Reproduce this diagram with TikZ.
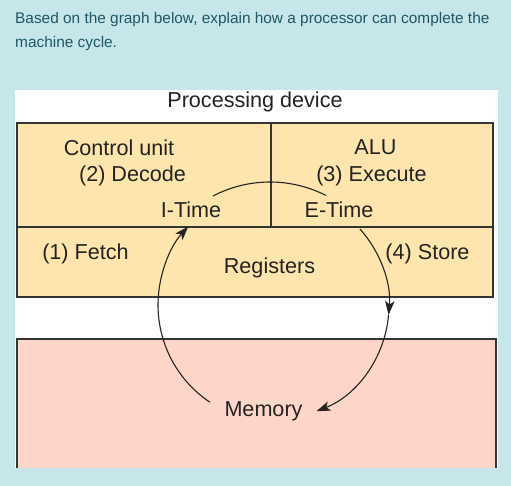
\documentclass[tikz,border=0pt]{standalone}
\usepackage{fontspec}
\setmainfont{Liberation Sans}
\usetikzlibrary{arrows.meta,positioning}
\definecolor{pagebg}{RGB}{198,230,234}
\definecolor{qtext}{RGB}{29,88,100}
\definecolor{cpufill}{RGB}{253,229,173}
\definecolor{memfill}{RGB}{253,214,201}
\definecolor{boxline}{RGB}{52,52,50}
\definecolor{lbltext}{RGB}{35,35,35}
\tikzset{
	unitbox/.style={draw=boxline, line width=1.4pt},
	lbl/.style={anchor=base, inner sep=0pt, text=lbltext,
		font=\fontsize{21.6}{26}\selectfont},
	qline/.style={anchor=base west, inner sep=0pt, text=qtext,
		font=\fontsize{15.4}{24}\selectfont},
	cycline/.style={draw=lbltext, line width=1.1pt},
	cycarc/.style={cycline, -{Stealth[length=14pt,width=9.5pt,inset=3.5pt]}}
}
\begin{document}
\begin{tikzpicture}[x=1pt,y=-1pt]
		\useasboundingbox (0,0) rectangle (511,486);
		\fill[pagebg] (0,0) rectangle (511,486);
		\node[qline] (quest) at (15,24) {Based on the graph below, explain how a processor can complete the};
		\node[qline] (questb) at (15,48) {machine cycle.};
		% white panel with processor and memory
		\fill[white] (15,90) rectangle (498,468);
		\draw[unitbox, fill=cpufill] (17,123) rectangle (493,297);
		\draw[unitbox] (17,227) -- (493,227);
		\draw[unitbox] (271,123) -- (271,227);
		\fill[memfill] (17,339) rectangle (496,468);
		\draw[unitbox] (17,468) -- (17,339) -- (496,339) -- (496,468);
		% labels
		\node[lbl] (ptitle) at (255,107.7) {Processing device};
		\node[lbl] (cu)     at (119,156)   {Control unit};
		\node[lbl] (dec)    at (132.5,182) {(2) Decode};
		\node[lbl] (itime)  at (191,218)   {I-Time};
		\node[lbl] (alu)    at (375.5,155) {ALU};
		\node[lbl] (exe)    at (371.5,182) {(3) Execute};
		\node[lbl] (etime)  at (339,218)   {E-Time};
		\node[lbl] (fetch)  at (85.5,259)  {(1) Fetch};
		\node[lbl] (reg)    at (269.5,273) {Registers};
		\node[lbl] (store)  at (427.5,259) {(4) Store};
		\node[lbl] (mem)    at (263.5,416) {Memory};
		% machine cycle
		\coordinate (cyc) at (275,305);
		\coordinate (cyctop) at (270,305);
		\draw[cycarc] ([shift={(123.8:117)}]cyc) arc[start angle=123.8, end angle=222.2, radius=117];
		\draw[cycline] ([shift={(242.4:123)}]cyctop) arc[start angle=242.4, end angle=297, radius=123];
		\draw[cycarc] ([shift={(-41.8:114)}]cyc) arc[start angle=-41.8, end angle=5, radius=114];
		\draw[cycarc] ([shift={(5:114)}]cyc) arc[start angle=5, end angle=68.7, radius=114];
\end{tikzpicture}
\end{document}
